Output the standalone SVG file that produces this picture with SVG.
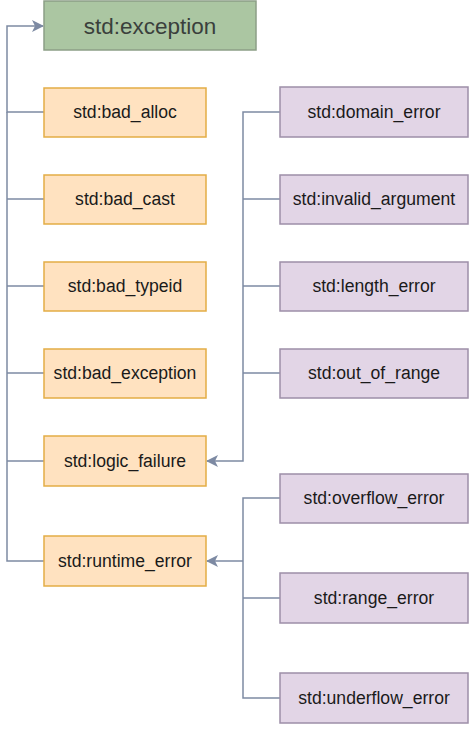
<svg xmlns="http://www.w3.org/2000/svg" width="474" height="730" viewBox="0 0 474 730">
<defs>
<marker id="arr" viewBox="0 0 12 12" refX="11" refY="6" markerWidth="12" markerHeight="12" markerUnits="userSpaceOnUse" orient="auto">
<path d="M0,0 L12,6 L0,12 L3,6 Z" fill="#7d8aa3"/>
</marker>
<style>
.t{font-family:"Liberation Sans",Arial,sans-serif;font-size:17.6px;fill:#1a1a1a;text-anchor:middle;dominant-baseline:central}
.g{fill:#abc6a2;stroke:#8c9e86;stroke-width:1.5}
.o{fill:#ffe2c0;stroke:#e3ad45;stroke-width:1.5}
.p{fill:#e2d5e6;stroke:#9d8ea8;stroke-width:1.5}
.c{fill:none;stroke:#7d8aa3;stroke-width:1.5}
</style>
</defs>
<rect width="474" height="730" fill="#ffffff"/>
<g id="connectors">
<path class="c" d="M44,112 H7 V26 H43" marker-end="url(#arr)"/>
<path class="c" d="M44,199 H7"/>
<path class="c" d="M44,286 H7"/>
<path class="c" d="M44,373 H7"/>
<path class="c" d="M44,461 H7"/>
<path class="c" d="M44,561 H7 V112"/>
<path class="c" d="M280,112 H243 V461 H207" marker-end="url(#arr)"/>
<path class="c" d="M280,199 H243"/>
<path class="c" d="M280,286 H243"/>
<path class="c" d="M280,373 H243"/>
<path class="c" d="M280,498 H243 V698 H280"/>
<path class="c" d="M280,598 H243"/>
<path class="c" d="M243,561 H207" marker-end="url(#arr)"/>
</g>
<g id="exception"><rect class="g" x="44" y="1" width="212" height="49"/><text class="t" x="150" y="26" style="font-size:22.5px;fill:#3a403c">std:exception</text></g>
<g id="bad_alloc"><rect class="o" x="44" y="88" width="162" height="49"/><text class="t" x="125" y="112">std:bad_alloc</text></g>
<g id="bad_cast"><rect class="o" x="44" y="175" width="162" height="49"/><text class="t" x="125" y="199">std:bad_cast</text></g>
<g id="bad_typeid"><rect class="o" x="44" y="262" width="162" height="49"/><text class="t" x="125" y="286">std:bad_typeid</text></g>
<g id="bad_exception"><rect class="o" x="44" y="349" width="162" height="49"/><text class="t" x="125" y="373">std:bad_exception</text></g>
<g id="logic_failure"><rect class="o" x="44" y="436" width="162" height="50"/><text class="t" x="125" y="461">std:logic_failure</text></g>
<g id="runtime_error"><rect class="o" x="44" y="536" width="162" height="50"/><text class="t" x="125" y="561">std:runtime_error</text></g>
<g id="domain_error"><rect class="p" x="280" y="87" width="188" height="50"/><text class="t" x="374" y="112">std:domain_error</text></g>
<g id="invalid_argument"><rect class="p" x="280" y="175" width="188" height="49"/><text class="t" x="374" y="199">std:invalid_argument</text></g>
<g id="length_error"><rect class="p" x="280" y="262" width="188" height="49"/><text class="t" x="374" y="286">std:length_error</text></g>
<g id="out_of_range"><rect class="p" x="280" y="349" width="188" height="49"/><text class="t" x="374" y="373">std:out_of_range</text></g>
<g id="overflow_error"><rect class="p" x="280" y="474" width="188" height="49"/><text class="t" x="374" y="498">std:overflow_error</text></g>
<g id="range_error"><rect class="p" x="280" y="573" width="188" height="50"/><text class="t" x="374" y="598">std:range_error</text></g>
<g id="underflow_error"><rect class="p" x="280" y="673" width="188" height="50"/><text class="t" x="374" y="698">std:underflow_error</text></g>
</svg>
